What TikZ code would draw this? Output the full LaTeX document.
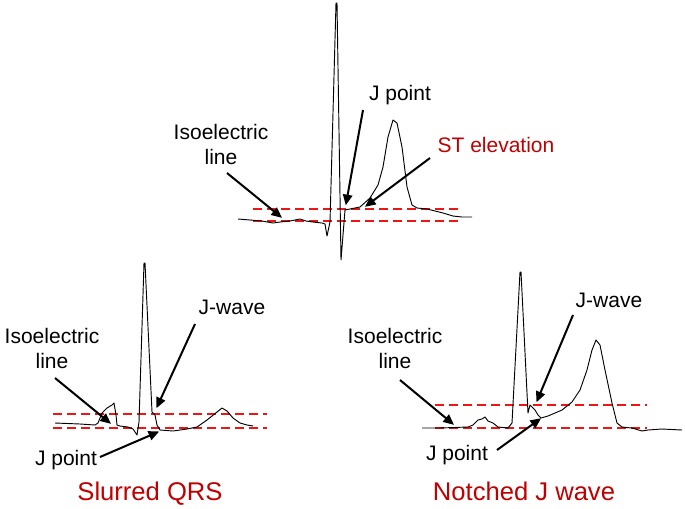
\documentclass[tikz,border=0pt]{standalone}
\usepackage{fontspec}
\setmainfont{Liberation Sans}
\usetikzlibrary{arrows.meta}
\definecolor{darkred}{RGB}{192,0,0}
\definecolor{isored}{RGB}{240,20,20}
\tikzset{
  lbl/.style={inner sep=0pt, font=\fontsize{15.75}{18.75}\selectfont, align=center, text=black},
  ttl/.style={inner sep=0pt, font=\fontsize{19.2}{22}\selectfont, text=darkred, anchor=base},
  isoline/.style={isored, line width=1.6pt, dash pattern=on 7pt off 3.5pt},
  ecg/.style={black, line width=0.7pt, line join=round},
  arr/.style={black, line width=1.5pt, -{Triangle[length=8pt,width=7pt]}, shorten >=-1pt},
}
\begin{document}
\begin{tikzpicture}[x=0.75pt,y=-0.75pt]
\useasboundingbox (0,0) rectangle (685,508);
\fill[white] (0,0) rectangle (685,508);

% ---------- top panel ----------
\draw[isoline] (253,209) -- (463,209);
\draw[isoline] (253,221) -- (463,221);
\draw[ecg] (238,219) -- (250,220) -- (262,221) -- (273,223) -- (280,222) -- (290,221) -- (300,219) -- (306,221) -- (313,222) -- (322,223) -- (325,224) -- (327,236) -- (330,222) -- (336,3) -- (337,3) -- (341,260) -- (345,210) -- (350,209) -- (360,207) -- (370,198) -- (378,185) -- (383,167) -- (388,137) -- (393,120) -- (397,123) -- (402,147) -- (407,187) -- (412,205) -- (417,208) -- (427,209) -- (435,211) -- (443,213) -- (453,216) -- (462,217) -- (472,217);

\node[lbl, anchor=north] (isoT) at (221,124) {Isoelectric\\line};
\node[lbl, anchor=base] (jpT) at (400,100) {J point};
\node[lbl, anchor=base, text=darkred] (stT) at (496,152) {ST elevation};
\coordinate (isoTs) at (227,173);
\coordinate (isoTe) at (281,217);
\coordinate (jpTs) at (363,110);
\coordinate (jpTe) at (346,204);
\coordinate (stTs) at (430,158);
\coordinate (stTe) at (366,206);
\draw[arr] (isoTs) -- (isoTe);
\draw[arr] (jpTs) -- (jpTe);
\draw[arr] (stTs) -- (stTe);

% ---------- bottom left panel ----------
\draw[isoline] (53,414) -- (267,414);
\draw[isoline] (53,428) -- (267,428);
\draw[ecg] (55,423) -- (80,424) -- (95,425) -- (98,423) -- (102,413) -- (107,408) -- (112,405) -- (114,403) -- (116,415) -- (117,425) -- (120,426) -- (128,427) -- (133,429) -- (137,435) -- (139,422) -- (144,263) -- (145,263) -- (152,412) -- (155,415) -- (157,425) -- (160,430) -- (173,431) -- (187,429) -- (197,427) -- (207,420) -- (217,412) -- (222,408) -- (227,411) -- (233,418) -- (240,423) -- (247,425) -- (253,426);

\node[lbl, anchor=north] (isoL) at (52,328) {Isoelectric\\line};
\node[lbl, anchor=base] (jwL) at (232,314) {J-wave};
\node[lbl, anchor=base] (jpL) at (66,465) {J point};
\node[ttl] (tL) at (150,500) {Slurred QRS};
\coordinate (isoLs) at (55,378);
\coordinate (isoLe) at (110,423);
\coordinate (jwLs) at (195,324);
\coordinate (jwLe) at (157,407);
\coordinate (jpLs) at (100,457);
\coordinate (jpLe) at (158,432);
\draw[arr] (isoLs) -- (isoLe);
\draw[arr] (jwLs) -- (jwLe);
\draw[arr] (jpLs) -- (jpLe);

% ---------- bottom right panel ----------
\draw[isoline] (435,405) -- (647,405);
\draw[isoline] (435,428) -- (647,428);
\draw[ecg] (422,428) -- (440,428) -- (468,427) -- (473,425) -- (478,420) -- (482,419) -- (485,417) -- (488,421) -- (493,423) -- (498,427) -- (508,428) -- (512,423) -- (520,272) -- (521,272) -- (528,413) -- (530,405) -- (532,407) -- (535,410) -- (538,415) -- (541,418) -- (548,416) -- (562,410) -- (572,402) -- (580,390) -- (587,370) -- (592,350) -- (596,340) -- (600,345) -- (605,370) -- (612,403) -- (617,423) -- (622,427) -- (632,428) -- (642,431) -- (648,430) -- (662,429) -- (682,430);

\node[lbl, anchor=north] (isoR) at (395,328) {Isoelectric\\line};
\node[lbl, anchor=base] (jwR) at (609,307) {J-wave};
\node[lbl, anchor=base] (jpR) at (457,460) {J point};
\node[ttl] (tR) at (524,500) {Notched J wave};
\coordinate (isoRs) at (400,380);
\coordinate (isoRe) at (453,424);
\coordinate (jwRs) at (573,315);
\coordinate (jwRe) at (537,401);
\coordinate (jpRs) at (497,450);
\coordinate (jpRe) at (540,419);
\draw[arr] (isoRs) -- (isoRe);
\draw[arr] (jwRs) -- (jwRe);
\draw[arr] (jpRs) -- (jpRe);
\end{tikzpicture}
\end{document}
